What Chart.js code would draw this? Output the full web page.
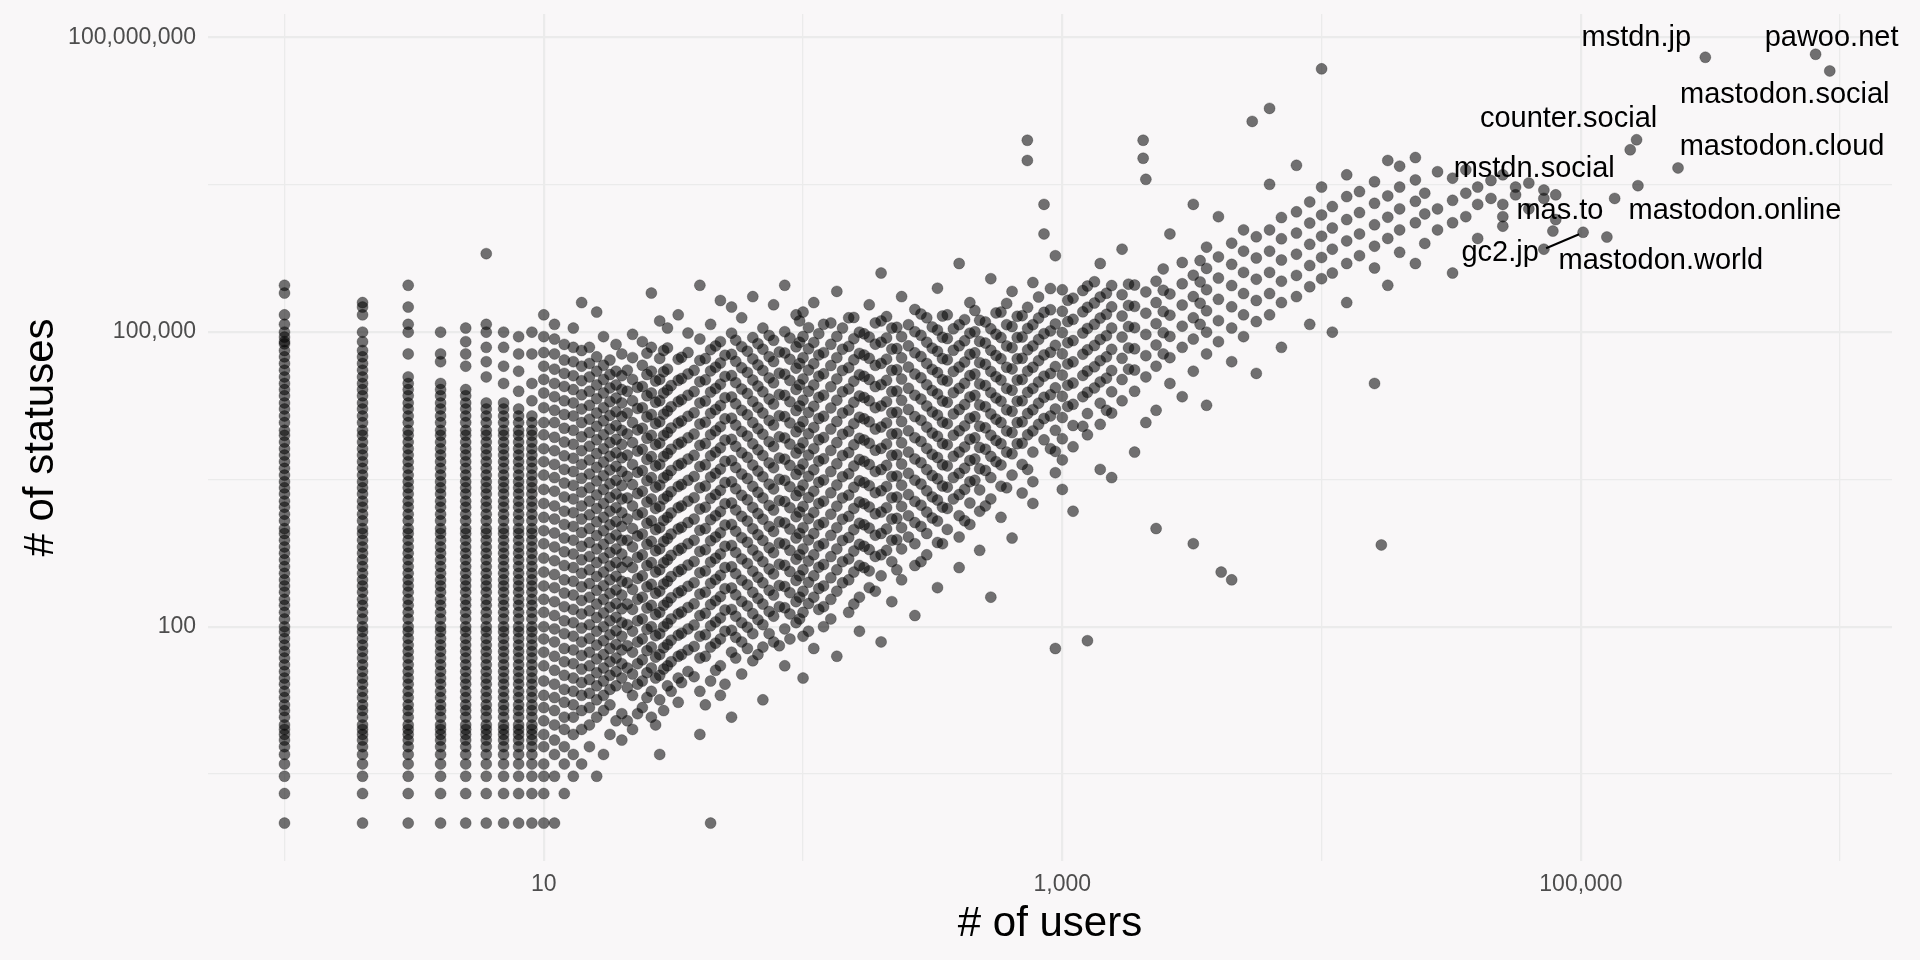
<!DOCTYPE html>
<html>
<head>
<script src="https://cdn.jsdelivr.net/npm/chart.js"></script>
<style>
  html, body { margin: 0; padding: 0; background: #f9f7f8; }
  #wrap { width: 1920px; height: 960px; }
</style>
</head>
<body>
<div id="wrap"><canvas id="c" width="1920" height="960"></canvas></div>
<script>
// columns of tiny instances (users 1..9)
const colUsers = [1, 2, 3, 4, 5, 6, 7, 8, 9];
const colStatuses = [1,2,3,4,5,6,7,8,9,10,12,14,16,19,22,26,30,35,41,48,56,65,76,89,100,120,140,165,190,225,260,300,350,410,480,560,650,760,890,1000,1200,1400,1650,1900,2250,2600,3000,3500,4100,4800,5600,6500,7600,8900,10000,12000,14000,16500,19000,22500,26000,30000,35000,41000,48000,56000,65000,76000,89000,100000];
const colTop = [100000, 65000, 40000, 30000, 26000, 22000, 19000, 16500, 14000];
const colExtra = [
  [150000, 250000, 300000, 120000, 80000],
  [200000, 180000, 150000, 100000, 80000],
  [300000, 180000, 120000, 100000, 60000],
  [100000, 60000, 50000],
  [110000, 80000, 60000, 45000],
  [630000, 120000, 100000, 70000, 50000, 35000],
  [100000, 70000, 45000, 30000],
  [90000, 60000, 40000, 25000],
  [100000, 60000, 30000, 20000]
];

// the main cloud: [users, [statuses...]]
const cloud = [
  [10,[1,2,3,4,6,8,11,15,20,28,40,55,75,100,140,190,260,360,500,700,950,1300,1800,2500,3500,4800,6500,9000,12000,17000,24000,33000,45000,62000,90000,150000]],
  [11,[1,3,5,7,10,14,19,26,36,50,70,95,130,180,250,340,470,650,900,1250,1700,2400,3300,4500,6200,8500,12000,16000,22000,30000,42000,60000,85000,120000]],
  [12,[2,4,6,9,12,17,23,32,44,60,85,115,160,220,300,420,580,800,1100,1500,2100,2900,4000,5500,7600,10500,14500,20000,28000,38000,52000,75000]],
  [13,[3,5,8,12,16,22,30,42,58,80,110,150,210,290,400,550,760,1050,1450,2000,2750,3800,5200,7200,10000,14000,19000,26000,36000,50000,70000,110000]],
  [14,[4,9,14,20,27,37,51,70,97,135,185,255,350,480,660,910,1250,1700,2350,3250,4500,6200,8600,12000,16500,23000,32000,45000,65000,200000]],
  [15,[6,10,15,21,29,40,55,76,105,145,200,275,380,520,720,1000,1380,1900,2600,3600,5000,6900,9500,13000,18000,25000,35000,48000,70000]],
  [16,[3,12,18,25,34,47,65,90,124,170,235,325,450,620,850,1170,1600,2200,3050,4200,5800,8000,11000,15000,21000,29000,40000,56000,160000]],
  [17,[5,14,20,28,38,52,72,100,138,190,262,360,500,690,950,1300,1800,2500,3450,4750,6500,9000,12500,17000,24000,33000,46000,90000]],
  [18,[8,16,23,32,44,60,83,115,158,218,300,415,570,790,1090,1500,2070,2850,3950,5450,7500,10300,14200,19600,27000,37000,52000]],
  [19,[11,25,35,48,66,91,125,172,237,327,450,620,860,1180,1630,2250,3100,4300,5900,8100,11200,15500,21300,29000,40000,75000]],
  [20,[7,13,30,42,58,80,110,152,210,290,400,550,760,1050,1450,2000,2750,3800,5250,7200,10000,13800,19000,26000,36000,60000]],
  [22,[9,20,33,55,90,150,240,400,650,1000,1700,2800,4500,7500,12000,20000,33000,55000,95000]],
  [24,[15,28,46,75,120,200,330,540,880,1450,2400,3900,6400,10500,17000,28000,46000,80000]],
  [26,[12,22,38,62,100,165,270,450,740,1200,2000,3300,5400,8900,14500,24000,40000,70000,250000]],
  [28,[5,18,32,52,85,140,230,380,620,1020,1680,2760,4500,7400,12200,20000,33000,54000,130000]],
  [30,[25,40,66,108,178,290,480,790,1300,2140,3500,5800,9500,15700,25800,42000,69000,110000]],
  [33,[17,30,50,82,135,222,365,600,990,1630,2680,4400,7250,11900,19600,32300,53000,150000]],
  [36,[35,58,95,157,258,425,700,1150,1900,3100,5100,8400,13900,22800,37500,62000,98000]],
  [40,[8,22,48,80,130,215,355,585,960,1580,2600,4280,7040,11600,19000,31300,51500,85000,300000]],
  [44,[1,28,62,102,168,277,455,750,1230,2030,3340,5500,9040,14900,24500,40300,66300,120000]],
  [48,[20,40,75,123,203,334,550,905,1490,2450,4030,6630,10900,17900,29500,48500,80000,210000]],
  [53,[12,55,92,150,248,408,672,1100,1820,2990,4920,8100,13300,21900,36100,59400,97700,180000]],
  [58,[33,70,110,181,298,490,806,1330,2180,3590,5900,9720,16000,26300,43300,71200,140000]],
  [64,[45,85,136,224,368,605,995,1640,2690,4430,7290,12000,19700,32500,53400,88000,230000]],
  [70,[18,62,105,170,280,460,757,1245,2050,3370,5550,9130,15000,24700,40700,67000,110000]],
  [77,[70,128,210,345,568,934,1540,2530,4160,6850,11300,18500,30500,50200,82600,190000]],
  [85,[40,95,156,257,422,695,1140,1880,3090,5090,8370,13800,22700,37300,61400,101000,300000]],
  [94,[110,180,296,487,801,1320,2170,3570,5870,9660,15900,26100,43000,70800,150000]],
  [100,[30,80,140,230,380,620,1020,1680,2770,4550,7490,12300,20300,33400,54900,90300,160000]],
  [110,[60,200,330,540,890,1460,2400,3960,6510,10700,17600,29000,47700,78500,200000]],
  [120,[100,160,260,430,700,1150,1900,3120,5130,8440,13900,22800,37600,61800,120000]],
  [135,[50,230,380,620,1020,1690,2770,4560,7500,12300,20300,33400,55000,90400,260000]],
  [150,[140,300,490,810,1330,2190,3610,5940,9770,16100,26400,43500,71600,140000]],
  [165,[90,200,420,690,1130,1860,3060,5040,8290,13600,22400,36900,60700,100000]],
  [180,[250,370,610,1010,1660,2730,4490,7390,12200,20000,32900,54100,89000,190000]],
  [200,[70,330,540,890,1470,2420,3980,6550,10800,17700,29200,48000,79000,130000,400000]],
  [220,[180,460,760,1250,2060,3390,5570,9170,15100,24800,40800,67200,110000]],
  [240,[300,620,1020,1680,2760,4540,7470,12300,20200,33300,54700,90000,230000]],
  [270,[130,420,700,1150,1890,3110,5110,8410,13800,22800,37400,61600,101000,170000]],
  [300,[540,890,1470,2420,3980,6550,10800,17700,29200,48000,79000,140000]],
  [330,[250,720,1190,1950,3210,5290,8700,14300,23500,38700,63700,105000,280000]],
  [360,[980,1600,2640,4340,7140,11700,19300,31800,52300,86000,150000]],
  [400,[400,820,1350,2220,3650,6010,9890,16300,26800,44100,72500,119000,500000]],
  [440,[1100,1820,3000,4930,8110,13300,21900,36100,59400,97700,200000]],
  [480,[600,1500,2470,4060,6680,11000,18100,29700,48900,80500,132000]],
  [530,[200,2000,3300,5430,8930,14700,24200,39800,65400,108000,350000]],
  [580,[1300,2700,4440,7300,12000,19800,32500,53500,88000,160000]],
  [640,[800,3500,5760,9480,15600,25600,42200,69400,114000,260000]],
  [700,[2300,4500,7400,12200,20000,33000,54200,89200,147000]],
  [733,[5600000,9000000]],
  [770,[1800,3000,6000,9870,16200,26700,43900,72300,119000,320000]],
  [850,[8000,13200,21700,35600,58600,96400,159000,1000000,2000000]],
  [940,[60,3700,6100,10000,16500,27100,44600,73400,121000,600000]],
  [1000,[2500,5000,8200,13500,22200,36500,60100,98900,163000,270000]],
  [1100,[1500,6800,11200,18400,30300,49800,82000,135000,222000]],
  [1250,[72,9000,14800,24400,40100,66000,109000,179000,295000]],
  [1400,[4000,11500,18900,31100,51200,84200,139000,228000,500000]],
  [1550,[3300,15000,24700,40600,66800,110000,181000,298000]],
  [1700,[20000,32900,54100,89000,146000,241000,700000]],
  [1900,[6000,25000,41100,67700,111000,183000,302000]],
  [2050,[5900000,9000000]],
  [2100,[12000,35000,57600,94800,156000,257000,3600000]],
  [2300,[1000,16000,45000,74000,122000,200000,330000]],
  [2600,[30000,55000,90500,149000,245000,1000000]],
  [2900,[22000,70000,115000,189000,311000,512000]],
  [3200,[700,40000,85000,140000,230000,380000,2000000]],
  [3600,[18000,60000,100000,165000,271000,446000,734000]],
  [4000,[80000,131000,216000,355000,584000,1500000]],
  [4100,[360]],
  [4500,[300,50000,110000,181000,298000,490000,806000]],
  [5000,[90000,150000,247000,406000,668000,1100000]],
  [5400,[14000000]],
  [5600,[38000,128000,210000,346000,569000,936000]],
  [6300,[150000,247000,406000,668000,1100000,3200000,19000000]],
  [7000,[70000,200000,330000,543000,893000,1470000]],
  [8000,[230000,378000,622000,1020000,1680000,5000000]],
  [9000,[120000,290000,477000,785000,1290000,2120000]],
  [10000,[350000,576000,948000,1560000,3000000,48000000]],
  [11000,[100000,400000,700000,1150000,1900000]],
  [12500,[200000,500000,850000,1400000,2400000,4000000]],
  [14000,[600000,1000000,1650000,2700000]],
  [16000,[30000,450000,750000,1240000,2050000,3400000]],
  [17000,[680]],
  [18000,[300000,900000,1480000,2440000,5600000]],
  [20000,[650000,1100000,1800000,3000000,4900000]],
  [23000,[500000,1300000,2150000,3550000,6000000]],
  [25000,[800000,1600000,2600000]],
  [28000,[1100000,1800000,4300000]],
  [32000,[400000,1300000,2200000,3700000]],
  [36000,[1500000,2600000,4500000]],
  [40000,[900000,2000000,3000000]],
  [45000,[2300000,3500000]],
  [50000,[1200000,1500000,2000000,4000000]],
  [56000,[2500000,3000000]],
  [63000,[1800000,3300000]],
  [72000,[700000,2300000,2800000]],
  [80000,[1400000,2500000]],
  [135000,[2300000]]
];

// filler between the cloud columns, dense core of the cloud
const cloudFill = [
  [21,[11,24,38,64,105,170,280,460,760,1250,2050,3400,5600,9200,15000,25000,41000]],
  [23,[13,26,42,70,115,190,310,510,840,1380,2270,3740,6150,10100,16700,27400]],
  [25,[19,34,57,94,155,255,420,690,1130,1860,3070,5050,8300,13700,22500,37000,61000]],
  [27,[10,30,49,81,133,219,360,593,975,1600,2640,4340,7140,11700,19300,31800]],
  [29,[14,37,61,100,165,272,448,737,1210,2000,3280,5400,8880,14600,24000,39500,65000]],
  [31,[22,44,73,120,197,324,533,877,1440,2370,3900,6420,10560,17400,28600]],
  [34,[27,52,86,141,232,382,628,1030,1700,2800,4600,7570,12450,20500,33700,55400]],
  [38,[31,63,104,171,281,462,760,1250,2060,3390,5570,9170,15100,24800,40800]],
  [42,[16,50,83,137,225,370,609,1000,1650,2710,4460,7340,12100,19900,32700,53800]],
  [46,[36,68,112,184,303,498,820,1350,2220,3650,6000,9880,16300,26700,44000,72300]],
  [50,[26,90,148,244,401,660,1085,1790,2940,4830,7950,13100,21500,35400,58200]],
  [55,[48,78,128,211,347,571,940,1545,2540,4180,6880,11300,18600,30600,50400,82900]],
  [61,[60,99,163,268,441,725,1190,1960,3230,5310,8740,14400,23700,38900,64000]],
  [67,[52,118,194,319,525,864,1420,2340,3850,6330,10400,17100,28200,46400,76300]],
  [74,[85,143,235,387,636,1050,1720,2830,4660,7670,12600,20800,34200,56200,92500]],
  [81,[64,160,263,433,712,1170,1930,3170,5220,8590,14100,23200,38200,62900]],
  [89,[75,135,222,365,600,988,1630,2670,4400,7240,11900,19600,32200,53000,87200]],
  [97,[120,200,330,542,892,1470,2410,3970,6540,10800,17700,29100,47900,78800,130000]],
  [105,[90,172,283,466,766,1260,2070,3410,5610,9230,15200,25000,41100,67600,111000]],
  [115,[150,245,404,664,1090,1800,2960,4870,8000,13200,21700,35600,58600,96400]],
  [128,[120,190,315,518,852,1400,2310,3800,6240,10300,16900,27800,45700,75200,124000]],
  [142,[280,460,757,1245,2050,3370,5550,9130,15000,24700,40700,67000,110000]],
  [157,[170,360,590,972,1600,2630,4330,7120,11700,19300,31700,52200,85800,141000]],
  [172,[400,660,1090,1790,2940,4840,7970,13100,21600,35500,58400,96100]],
  [190,[230,520,855,1410,2320,3810,6270,10300,17000,27900,45900,75500,124000]],
  [210,[600,990,1630,2680,4400,7250,11900,19600,32300,53100,87400,144000]],
  [230,[380,770,1270,2090,3430,5650,9290,15300,25100,41400,68000,112000]],
  [255,[820,1350,2220,3650,6010,9890,16300,26800,44100,72500,119000]],
  [285,[460,1050,1730,2840,4680,7700,12700,20800,34300,56400,92800,153000]],
  [315,[1280,2100,3460,5690,9370,15400,25400,41700,68700,113000]],
  [345,[700,1650,2710,4460,7340,12100,19900,32700,53800,88500,146000]],
  [380,[2000,3300,5430,8930,14700,24200,39800,65400,108000]],
  [420,[1200,2500,4110,6770,11100,18300,30100,49600,81600,134000]],
  [460,[3100,5100,8390,13800,22700,37400,61500,101000,166000]],
  [505,[1700,3900,6420,10600,17400,28600,47000,77400,127000]],
  [555,[4800,7900,13000,21400,35200,57900,95300,157000]],
  [610,[2600,6000,9870,16200,26700,43900,72300,119000,196000]],
  [670,[7300,12000,19800,32500,53500,88000,145000]],
  [735,[4000,9000,14800,24400,40100,66000,109000,179000]],
  [810,[11500,18900,31100,51200,84200,139000,228000]],
  [900,[6500,14000,23000,37900,62400,103000,169000,278000]],
  [1050,[17500,28800,47400,78000,128000,211000]],
  [1200,[11000,22000,36200,59600,98000,161000,265000]],
  [1330,[27000,44400,73100,120000,198000,326000]],
  [1480,[16000,34000,56000,92100,152000,249000]],
  [1800,[42000,69100,114000,187000,308000]],
  [2450,[60000,98700,162000,267000,440000]],
  [3400,[120000,197000,325000,535000]]
];

// named instances
const labelNames = ['pawoo.net','mastodon.social','mstdn.jp','counter.social','mstdn.social','mastodon.cloud','mastodon.online','mas.to','gc2.jp','mastodon.world'];
const labelUsers = [804000, 912000, 302000, 164000, 155000, 237000, 166000, 78000, 102000, 126000];
const labelStatuses = [67600000, 45700000, 63000000, 9100000, 7200000, 4700000, 3100000, 1070000, 1040000, 930000];
// text offsets from the point (px)
const labelDx = [16, -45, -69, -68, -96, 104, 97, 7, -83, 54];
const labelDy = [-16, 24, -19, -21, 19, -21, 25, -20, 21, 24];

const xTicks = [1, 10, 100, 1000, 10000, 100000, 1000000];
const xTickLabels = {10: '10', 1000: '1,000', 100000: '100,000'};
const yTicks = [Math.pow(10, 0.5), 100, Math.pow(10, 3.5), 100000, Math.pow(10, 6.5), 100000000];
const yTickLabels = {100: '100', 100000: '100,000', 100000000: '100,000,000'};

const points = [];
colUsers.forEach((u, i) => {
  colStatuses.filter(s => s <= colTop[i]).forEach(s => points.push({x: u, y: s}));
  colExtra[i].forEach(s => points.push({x: u, y: s}));
});
cloud.concat(cloudFill).forEach(([u, list]) => list.forEach(s => points.push({x: u, y: s})));
labelNames.forEach((n, i) => points.push({x: labelUsers[i], y: labelStatuses[i]}));

const FONT = '"Liberation Sans", Arial, sans-serif';

const labelPlugin = {
  id: 'labels',
  afterDatasetsDraw(chart) {
    const ctx = chart.ctx, xs = chart.scales.x, ys = chart.scales.y;
    ctx.save();
    ctx.font = '29px ' + FONT;
    ctx.fillStyle = '#000';
    ctx.textAlign = 'center';
    ctx.textBaseline = 'middle';
    labelNames.forEach((n, i) => {
      const px = xs.getPixelForValue(labelUsers[i]);
      const py = ys.getPixelForValue(labelStatuses[i]);
      if (n === 'gc2.jp') {
        ctx.strokeStyle = '#000';
        ctx.lineWidth = 2;
        ctx.beginPath();
        ctx.moveTo(px + labelDx[i] + 46, py + labelDy[i] - 5);
        ctx.lineTo(px - 4, py + 2);
        ctx.stroke();
      }
      ctx.fillText(n, px + labelDx[i], py + labelDy[i]);
    });
    ctx.restore();
  }
};

const bgPlugin = {
  id: 'bg',
  beforeDraw(chart) {
    const ctx = chart.ctx;
    ctx.save();
    ctx.fillStyle = '#f9f7f8';
    ctx.fillRect(0, 0, chart.width, chart.height);
    ctx.restore();
  }
};

function gridStyle(labels) {
  return {
    color: '#ebebeb',
    lineWidth: ctx => (ctx.tick && labels[ctx.tick.value] ? 2.2 : 1.3),
    drawTicks: false
  };
}

new Chart(document.getElementById('c'), {
  type: 'scatter',
  data: {
    datasets: [{
      data: points,
      backgroundColor: 'rgba(0,0,0,0.55)',
      borderColor: 'rgba(0,0,0,0.25)',
      borderWidth: 1,
      pointRadius: 5.5,
      pointHoverRadius: 5.5
    }]
  },
  plugins: [bgPlugin, labelPlugin],
  options: {
    responsive: false,
    animation: false,
    layout: { padding: { left: 0, right: 28, top: 14, bottom: 0 } },
    plugins: { legend: { display: false }, tooltip: { enabled: false } },
    scales: {
      x: {
        type: 'logarithmic',
        min: Math.pow(10, -0.295),
        max: Math.pow(10, 6.2),
        border: { display: false },
        grid: gridStyle(xTickLabels),
        afterBuildTicks: s => { s.ticks = xTicks.map(v => ({value: v})); },
        afterFit: s => { s.height = 99; s.paddingLeft = 0; s.paddingRight = 0; },
        ticks: {
          autoSkip: false, maxRotation: 0, padding: 10,
          color: '#4d4d4d', font: { family: FONT, size: 23 },
          callback: v => xTickLabels[v] || ''
        },
        title: { display: true, text: '# of users', color: '#000',
                 font: { family: FONT, size: 42 }, padding: { top: 4, bottom: 10 } }
      },
      y: {
        type: 'logarithmic',
        min: Math.pow(10, -0.386),
        max: Math.pow(10, 8.24),
        border: { display: false },
        grid: gridStyle(yTickLabels),
        afterBuildTicks: s => { s.ticks = yTicks.map(v => ({value: v})); },
        afterFit: s => { s.width = 208; s.paddingTop = 0; s.paddingBottom = 0; },
        ticks: {
          autoSkip: false, padding: 12,
          color: '#4d4d4d', font: { family: FONT, size: 23 },
          callback: v => yTickLabels[v] || ''
        },
        title: { display: true, text: '# of statuses', color: '#000',
                 font: { family: FONT, size: 42 }, padding: { top: 16, bottom: 0 } }
      }
    }
  }
});
</script>
</body>
</html>
